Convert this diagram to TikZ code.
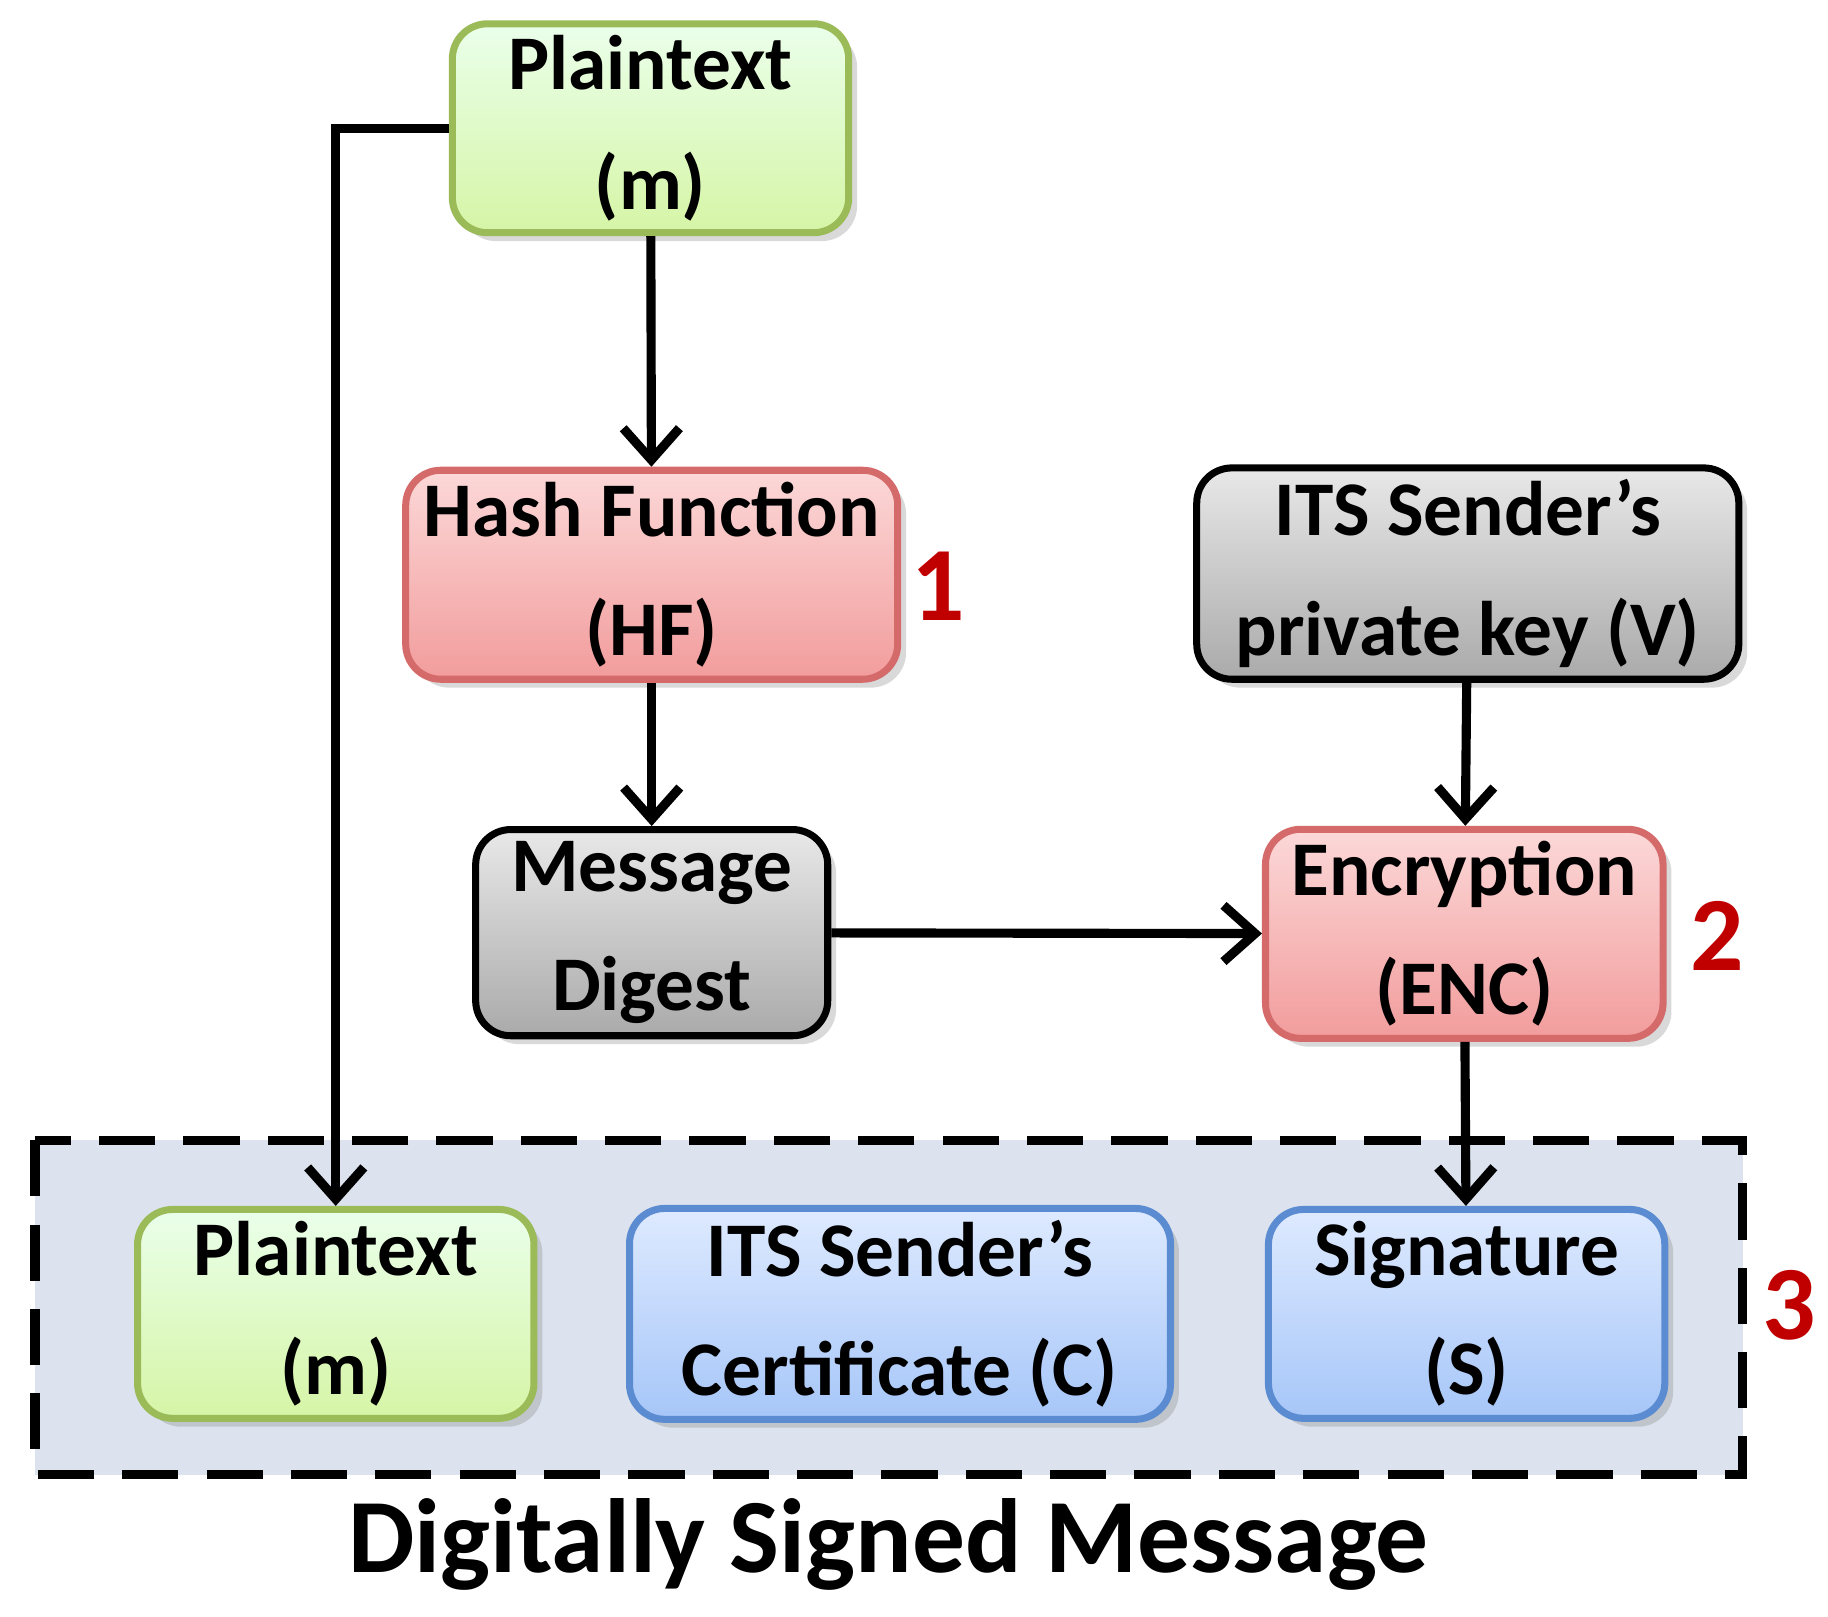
\documentclass[tikz,border=0pt]{standalone}
\usepackage{fontspec}
\setmainfont{Carlito}
\usetikzlibrary{arrows.meta,shadows}
\definecolor{grnB}{HTML}{9BBB59}
\definecolor{redB}{HTML}{D46A6A}
\definecolor{bluB}{HTML}{5B8BD0}
\definecolor{boxF}{HTML}{DCE3EE}
\definecolor{numR}{HTML}{C00000}
\tikzset{
  blk/.style={draw, rounded corners=10pt, line width=2pt, align=center,
    font=\bfseries\fontsize{22}{34}\selectfont, drop shadow={opacity=0.3}},
  green/.style={blk, draw=grnB, top color=green!8!white, bottom color={rgb,255:red,214;green,245;blue,166}},
  red/.style={blk, draw=redB, top color={rgb,255:red,252;green,216;blue,216}, bottom color={rgb,255:red,242;green,156;blue,156}},
  gray/.style={blk, draw=black, top color={rgb,255:red,232;green,232;blue,232}, bottom color={rgb,255:red,170;green,170;blue,170}},
  blue/.style={blk, draw=bluB, top color={rgb,255:red,222;green,234;blue,255}, bottom color={rgb,255:red,166;green,198;blue,248}},
  num/.style={text=numR, font=\bfseries\fontsize{30}{30}\selectfont},
  line/.style={draw, line width=2.6pt, -{Straight Barb[length=9pt,width=16pt,line width=2.6pt]}}
}
\begin{document}
\begin{tikzpicture}[x=0.01166cm, y=-0.01166cm]
\useasboundingbox (0,0) rectangle (1568,1387);
% signed message frame
\draw[fill=boxF, line width=2.6pt, dash pattern=on 16pt off 8pt] (30,978) rectangle (1495,1265);
\node[font=\bfseries\fontsize{30}{30}\selectfont] (title) at (762,1325) {Digitally Signed Message};
% blocks
\node[green, minimum width=340*0.01166cm, minimum height=165*0.01166cm] (PT) at (558,110) {Plaintext\\(m)};
\node[red, minimum width=422*0.01166cm, minimum height=167*0.01166cm] (HF) at (559,493) {Hash Function\\(HF)};
\node[gray, minimum width=302*0.01166cm, minimum height=165*0.01166cm] (MD) at (559,800) {Message\\Digest};
\node[gray, minimum width=465*0.01166cm, minimum height=159*0.01166cm] (PK) at (1259,492) {ITS Sender’s\\private key (V)};
\node[red, minimum width=341*0.01166cm, minimum height=170*0.01166cm] (ENC) at (1256,801) {Encryption\\(ENC)};
\node[green, minimum width=340*0.01166cm, minimum height=165*0.01166cm] (PT2) at (288,1127) {Plaintext\\(m)};
\node[blue, minimum width=464*0.01166cm, minimum height=165*0.01166cm] (CERT) at (772,1127) {ITS Sender’s\\Certificate (C)};
\node[blue, minimum width=340*0.01166cm, minimum height=165*0.01166cm] (SIG) at (1258,1127) {Signature\\(S)};
% step numbers
\node[num] (n1) at (805,503) {1};
\node[num] (n2) at (1473,803) {2};
\node[num] (n3) at (1535,1120) {3};
% connectors
\path[line] (PT) -- (HF);
\path[line] (HF) -- (MD);
\path[line] (MD) -- (ENC);
\path[line] (PK) -- (ENC);
\path[line] (ENC) -- (SIG);
\path[line] (PT.west) -| (PT2.north);
\end{tikzpicture}
\end{document}
